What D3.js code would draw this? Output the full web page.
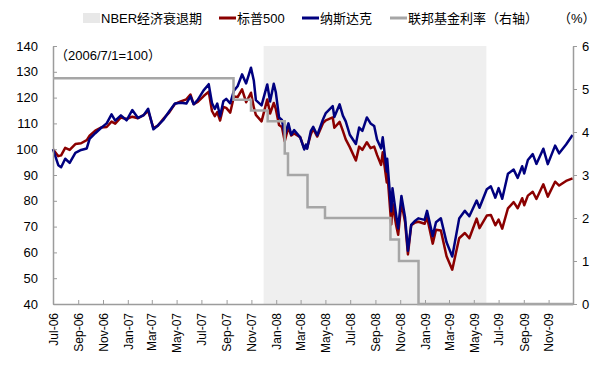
<!DOCTYPE html>
<html><head><meta charset="utf-8">
<script src="https://cdn.jsdelivr.net/npm/d3@7"></script>
<style>
html,body{margin:0;padding:0;background:#fff;}
svg{display:block;font-family:"Liberation Sans",Arial,"Noto Sans CJK SC",sans-serif;}
</style></head>
<body><svg id="c" width="600" height="372"></svg>
<script>
// ---- data ----
const dates = ["2006-07-01","2006-07-14","2006-07-21","2006-07-31","2006-08-11","2006-08-25","2006-09-08","2006-09-22","2006-09-29","2006-10-13","2006-10-27","2006-11-10","2006-11-22","2006-12-01","2006-12-15","2006-12-29",
"2007-01-12","2007-01-26","2007-02-09","2007-02-20","2007-03-05","2007-03-16","2007-03-30","2007-04-13","2007-04-27","2007-05-11","2007-05-25","2007-06-04","2007-06-12","2007-06-22","2007-07-06","2007-07-19","2007-07-27","2007-08-03","2007-08-09","2007-08-16","2007-08-24","2007-08-31","2007-09-10","2007-09-19","2007-09-28","2007-10-09","2007-10-19","2007-10-31","2007-11-07","2007-11-12","2007-11-26","2007-12-10","2007-12-17","2007-12-26","2007-12-31",
"2008-01-08","2008-01-15","2008-01-22","2008-01-31","2008-02-07","2008-02-14","2008-02-29","2008-03-10","2008-03-14","2008-03-17","2008-03-26","2008-04-01","2008-04-11","2008-04-25","2008-05-02","2008-05-19","2008-05-23","2008-06-05","2008-06-13","2008-06-20","2008-06-30","2008-07-15","2008-07-23","2008-07-31","2008-08-11","2008-08-20","2008-08-29","2008-09-05","2008-09-15","2008-09-19","2008-09-29","2008-09-30","2008-10-10","2008-10-13","2008-10-22","2008-10-27","2008-11-04","2008-11-13","2008-11-20","2008-11-28","2008-12-08","2008-12-16","2008-12-31",
"2009-01-06","2009-01-20","2009-01-28","2009-02-09","2009-02-23","2009-03-09","2009-03-26","2009-04-09","2009-04-20","2009-05-08","2009-05-15","2009-06-02","2009-06-12","2009-06-23","2009-07-01","2009-07-10","2009-07-24","2009-08-07","2009-08-17","2009-08-28","2009-09-02","2009-09-11","2009-09-23","2009-10-02","2009-10-19","2009-10-30","2009-11-17","2009-11-27","2009-12-14","2009-12-30"];
const sp500 = [100,97.3,97.6,100.5,99.7,102.0,102.3,103.5,105.2,107.2,108.4,108.6,110.7,109.9,112.3,111.7,
112.6,112.0,113.2,114.9,108.2,109.1,111.9,114.3,117.6,118.5,119.3,121.2,117.5,118.3,120.5,122.3,114.8,112.8,114.4,111.1,116.4,116.0,114.2,120.4,120.2,123.2,118.2,121.9,116.1,113.3,110.8,119.3,113.8,117.9,115.6,
109.4,108.6,103.1,108.5,105.3,106.1,104.7,100.2,101.4,100.5,105.7,107.9,104.9,110.1,111.2,112.3,108.3,110.6,107.1,103.8,100.8,95.6,101.0,99.7,102.7,100.4,101.0,97.8,93.9,98.8,87.1,91.8,70.8,79.0,70.5,66.8,79.2,71.7,59.2,70.5,71.6,71.9,71.1,
73.6,63.4,68.8,68.5,58.5,53.3,65.5,67.5,65.5,73.1,69.4,74.3,74.5,70.5,72.7,69.2,77.1,79.5,77.1,81.0,78.3,82.0,83.5,80.7,86.4,81.6,87.4,85.9,87.7,88.7];
const nasdaq = [100,93.8,93.0,96.3,94.7,98.6,99.7,100.3,104.0,106.2,108.2,110.0,113.5,111.1,113.1,111.2,
115.2,112.1,113.2,115.7,107.7,109.2,111.5,114.7,117.7,118.0,117.7,120.5,117.4,119.1,122.7,125.2,117.9,115.6,117.7,112.8,118.6,119.5,117.8,122.7,124.4,129.0,125.5,131.6,126.5,119.0,117.0,125.1,118.5,125.4,122.1,
112.3,111.3,105.5,110.0,105.6,107.4,104.6,99.9,101.8,100.2,107.0,108.7,105.4,111.5,114.0,116.7,112.5,117.4,113.0,110.8,105.6,102.0,108.4,107.1,112.3,110.0,109.0,103.8,100.3,104.6,91.3,96.3,75.9,84.9,74.4,69.3,81.9,73.5,60.6,70.7,72.3,73.2,72.6,
76.1,66.3,71.7,73.2,63.9,58.4,73.1,76.1,74.0,80.1,77.3,84.5,85.6,81.2,84.9,80.8,90.5,92.1,88.9,93.4,90.6,95.8,98.1,94.3,100.2,94.2,101.4,98.4,101.8,105.5];
const fedDates = ["2006-07-01","2007-09-18","2007-10-31","2007-12-11","2008-01-22","2008-01-30","2008-03-18","2008-04-30","2008-10-08","2008-10-29","2008-12-16","2009-12-31"];
const fedRates = [5.25,4.75,4.5,4.25,3.5,3.0,2.25,2.0,1.5,1.0,0,0];
const recession = ["2007-12-01","2009-06-01"];
const leftTicks = [40,50,60,70,80,90,100,110,120,130,140];
const rightTicks = [0,1,2,3,4,5,6];
const legendLabels = ["NBER经济衰退期","标普500","纳斯达克","联邦基金利率（右轴）"];
const baseNote = "（2006/7/1=100）";
const unitNote = "（%）";

// ---- setup ----
const parse = d3.timeParse("%Y-%m-%d");
const svg = d3.select("#c");
const L = 53, R = 573, T = 46, B = 304;
const x = d3.scaleTime().domain([parse("2006-07-01"), parse("2009-12-31")]).range([L, R]);
const yL = d3.scaleLinear().domain([40,140]).range([B, T]);
const yR = d3.scaleLinear().domain([0,6]).range([B, T]);
const C = {sp:"#8B0000", nq:"#00007F", fed:"#A6A6A6", band:"#EFEFEF", axis:"#9C9C9C"};

// recession band
svg.append("rect").attr("x", x(parse(recession[0]))).attr("y", T)
  .attr("width", x(parse(recession[1])) - x(parse(recession[0]))).attr("height", B - T)
  .attr("fill", C.band);

const spData = dates.map((d,i)=>({d:parse(d), v:sp500[i]}));
const nqData = dates.map((d,i)=>({d:parse(d), v:nasdaq[i]}));
const fedData = fedDates.map((d,i)=>({d:parse(d), v:fedRates[i]}));

const lineL = d3.line().x(p=>x(p.d)).y(p=>yL(p.v)).curve(d3.curveLinear);
svg.append("path").datum(spData).attr("d", lineL).attr("fill","none").attr("stroke",C.sp).attr("stroke-width",2.5).attr("stroke-linejoin","round");
svg.append("path").datum(nqData).attr("d", lineL).attr("fill","none").attr("stroke",C.nq).attr("stroke-width",2.5).attr("stroke-linejoin","round");

// axes
const fmt = d3.timeFormat("%b-%y");
const xAxis = d3.axisBottom(x).ticks(d3.timeMonth.every(2)).tickFormat(fmt).tickSizeInner(-4).tickSizeOuter(0);
const gx = svg.append("g").attr("transform",`translate(0,${B})`).call(xAxis);
gx.selectAll("text").attr("transform","rotate(-90)").attr("text-anchor","end")
  .attr("x",-9).attr("y",0).attr("dy","0.35em").attr("font-size",12).attr("fill","#000");

const gl = svg.append("g").attr("transform",`translate(${L},0)`)
  .call(d3.axisLeft(yL).tickValues(leftTicks).tickSizeInner(-4).tickSizeOuter(0).tickPadding(15));
gl.selectAll("text").attr("font-size",13).attr("fill","#000");

const gr = svg.append("g").attr("transform",`translate(${R},0)`)
  .call(d3.axisRight(yR).tickValues(rightTicks).tickFormat(d3.format("d")).tickSizeInner(4).tickSizeOuter(0).tickPadding(5));
gr.selectAll("text").attr("font-size",13).attr("fill","#000");

[gx,gl,gr].forEach(g=>{
  g.select(".domain").attr("stroke",C.axis).attr("stroke-width",1.5);
  g.selectAll(".tick line").attr("stroke",C.axis).attr("stroke-width",1);
});

// fed funds (right axis)
const lineR = d3.line().x(p=>x(p.d)).y(p=>yR(p.v)).curve(d3.curveStepAfter);
svg.append("path").datum(fedData).attr("d", lineR).attr("fill","none").attr("stroke",C.fed).attr("stroke-width",2.5);

// notes
svg.append("text").attr("x",55).attr("y",60).attr("font-size",13).text(baseNote);
svg.append("text").attr("x",558).attr("y",23).attr("font-size",13).text(unitNote);

// legend
const lg = svg.append("g").attr("font-size",13);
lg.append("rect").attr("x",83).attr("y",13).attr("width",17).attr("height",10).attr("fill","#E8E8E8");
lg.append("text").attr("x",101).attr("y",23).text(legendLabels[0]);
const items = [[219,C.sp,legendLabels[1]],[302,C.nq,legendLabels[2]],[390,C.fed,legendLabels[3]]];
items.forEach(([lx,c,t])=>{
  lg.append("line").attr("x1",lx).attr("x2",lx+17).attr("y1",18).attr("y2",18).attr("stroke",c).attr("stroke-width",3);
  lg.append("text").attr("x",lx+18).attr("y",23).text(t);
});
</script></body></html>
